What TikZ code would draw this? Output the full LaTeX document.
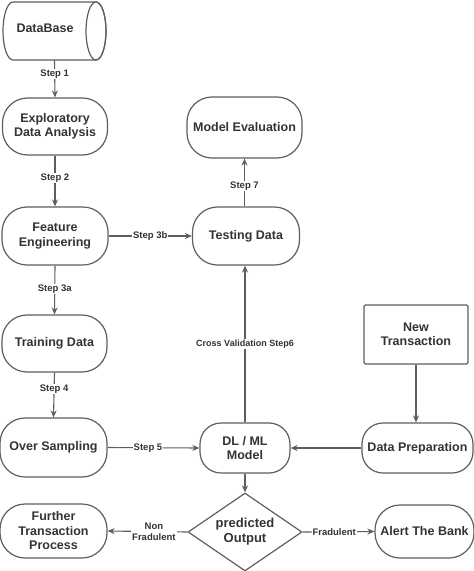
\documentclass[tikz,border=0pt]{standalone}
\usepackage{fontspec}
\setmainfont{Liberation Sans}
\usetikzlibrary{arrows.meta,shapes.geometric}
\definecolor{lc}{HTML}{5E5E5E}
\definecolor{tc}{HTML}{333333}
\tikzset{
  boxline/.style={draw=lc, line width=1.2pt},
  stad/.style={boxline, rectangle, rounded corners=25pt, align=center, inner sep=0pt,
    font=\bfseries\fontsize{12.5}{14.5}\selectfont, text=tc},
  sqbox/.style={boxline, rectangle, rounded corners=1.5pt, align=center, inner sep=0pt,
    font=\bfseries\fontsize{12.5}{14.5}\selectfont, text=tc},
  dia/.style={boxline, diamond, aspect=1.46, align=center, inner sep=0pt,
    font=\bfseries\fontsize{13}{15}\selectfont, text=tc},
  conn/.style={draw=lc, line width=1.1pt, -{Stealth[length=7pt,width=6pt]}},
  steplbl/.style={fill=white, inner sep=1pt, align=center, text=tc,
    font=\bfseries\fontsize{9.5}{11}\selectfont},
  lbl/.style={text=tc, font=\bfseries\fontsize{12.5}{14.5}\selectfont}
}
\begin{document}
\begin{tikzpicture}[x=1pt,y=-1pt]
\useasboundingbox (0,0) rectangle (474,571);
% database cylinder
\draw[boxline] (13,2) -- (96,2) arc[start angle=90, end angle=-90, x radius=10pt, y radius=29pt]
  -- (13,60) arc[start angle=270, end angle=90, x radius=10pt, y radius=29pt] -- cycle;
\draw[boxline] (96,31) ellipse [x radius=10pt, y radius=29pt];
\node[inner sep=0pt, minimum width=103pt, minimum height=58pt] (db) at (54.5,31) {};
\node[lbl] (dbt) at (45,28) {DataBase};
% left column
\node[stad, minimum width=105pt, minimum height=57pt] (eda) at (55,126.5) {Exploratory\\Data Analysis};
\node[stad, minimum width=106pt, minimum height=58pt] (fe) at (55,236) {Feature\\Engineering};
\node[stad, minimum width=105pt, minimum height=57pt] (td) at (54.5,343.5) {Training Data};
\node[stad, minimum width=107pt, minimum height=59pt] (os) at (53.5,447.5) {Over Sampling};
\node[stad, minimum width=107pt, minimum height=54pt] (ftp) at (53.5,531) {Further\\Transaction\\Process};
% middle column
\node[stad, minimum width=115pt, minimum height=61pt] (me) at (244.5,127.5) {Model Evaluation};
\node[stad, minimum width=107pt, minimum height=58pt] (test) at (246,236) {Testing Data};
\node[stad, minimum width=90pt, minimum height=50pt, rounded corners=21pt] (dl) at (245,448) {DL / ML\\Model};
\node[dia, minimum width=114pt, minimum height=78pt] (po) at (245,532) {predicted\\Output};
% right column
\node[sqbox, minimum width=104pt, minimum height=59pt] (nt) at (416,334.5) {New\\Transaction};
\node[stad, minimum width=111pt, minimum height=50pt, rounded corners=21pt] (dp) at (417.5,448) {Data Preparation};
\node[stad, minimum width=99pt, minimum height=53pt] (ab) at (424.5,531.5) {Alert The Bank};
% connectors
\draw[conn] (db.south) -- node[steplbl, pos=0.37] {Step 1} (eda.north);
\draw[conn] (eda.south) -- node[steplbl, pos=0.44] {Step 2} (fe.north);
\draw[conn] (fe.south) -- node[steplbl, pos=0.48] {Step 3a} (td.north);
\draw[conn] (td.south) -- node[steplbl, pos=0.37] {Step 4} (os.north);
\draw[conn] (fe.east) -- node[steplbl, pos=0.5] {Step 3b} (test.west);
\draw[conn] (os.east) -- node[steplbl, pos=0.44] {Step 5} (dl.west);
\draw[conn] (test.north -| me.south) -- node[steplbl, pos=0.43] {Step 7} (me.south);
\draw[conn] (dl.north) -- node[steplbl, pos=0.5, font=\bfseries\fontsize{9}{11}\selectfont] {Cross Validation Step6} (dl.north |- test.south);
\draw[conn] (nt.south) -- (nt.south |- dp.north);
\draw[conn] (dp.west) -- (dl.east);
\draw[conn] (dl.south) -- (po.north);
\draw[conn] (po.west) -- node[steplbl, pos=0.42] {Non\\Fradulent} (ftp.east);
\draw[conn] (po.east) -- node[steplbl, pos=0.44] {Fradulent} (ab.west);
\end{tikzpicture}
\end{document}
